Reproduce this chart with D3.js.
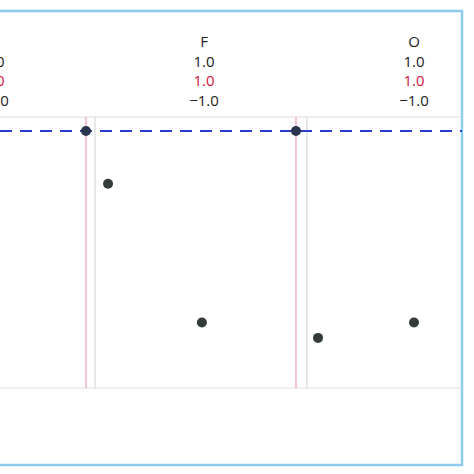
<!DOCTYPE html>
<html>
<head>
<meta charset="utf-8">
<script src="https://cdn.jsdelivr.net/npm/d3@7"></script>
<style>
  body { margin: 0; background: #fff; }
  svg { display: block; font-family: "Open Sans", sans-serif; }
</style>
</head>
<body>
<div id="chart"></div>
<script>
// column labels (first column is cut off at the left edge, as in the original)
const columns = ["", "F", "O"];
const row1 = ["1.0", "1.0", "1.0"];
const row2 = ["1.0", "1.0", "1.0"];
const row3 = ["\u22121.0", "\u22121.0", "\u22121.0"];
// points: x in column units, y value
const pointX = [0.438, 0.543, 0.99, 1.438, 1.543, 2.0];
const pointY = [1.0, 0.59, -0.49, 1.0, -0.61, -0.49];
const pinkLines = [0.438, 1.438];
const grayLines = [0.481, 1.49];
const refLine = 1.0;

const svgWidth = 474, svgHeight = 474;
const svg = d3.select("#chart").append("svg")
    .attr("width", svgWidth)
    .attr("height", svgHeight);

const xScale = d3.scaleLinear().domain([0, 1]).range([-6, 204]);
const yScale = d3.scaleLinear().domain([-1, 1]).range([388, 131]);
const plotTop = 117, plotBottom = 388;

// frame
svg.append("rect")
    .attr("x", -10).attr("y", 11)
    .attr("width", 472).attr("height", 454)
    .attr("fill", "none")
    .attr("stroke", "#8ccbef")
    .attr("stroke-width", 2.5);

// plot box lines
svg.append("line").attr("x1", 0).attr("x2", 462)
    .attr("y1", plotTop).attr("y2", plotTop).attr("stroke", "#ddd");
svg.append("line").attr("x1", 0).attr("x2", 462)
    .attr("y1", plotBottom).attr("y2", plotBottom).attr("stroke", "#ddd");

svg.selectAll(".gray").data(grayLines).enter().append("line")
    .attr("x1", d => xScale(d)).attr("x2", d => xScale(d))
    .attr("y1", plotTop).attr("y2", plotBottom)
    .attr("stroke", "#d8d8d8").attr("stroke-width", 1.2);
svg.selectAll(".pink").data(pinkLines).enter().append("line")
    .attr("x1", d => xScale(d)).attr("x2", d => xScale(d))
    .attr("y1", plotTop).attr("y2", plotBottom)
    .attr("stroke", "#e8a0bc").attr("stroke-width", 1.2);

// dashed reference
svg.append("line")
    .attr("x1", 0).attr("x2", 462)
    .attr("y1", yScale(refLine)).attr("y2", yScale(refLine))
    .attr("stroke", "#2a3acc").attr("stroke-width", 2)
    .attr("stroke-dasharray", "12,8");

// points
svg.selectAll("circle").data(pointX).enter().append("circle")
    .attr("cx", d => xScale(d))
    .attr("cy", (d, i) => yScale(pointY[i]))
    .attr("r", 5)
    .attr("fill", (d, i) => pointY[i] === refLine ? "#2a3550" : "#333b3b");

// header labels
const rows = [[columns, "#222", 47], [row1, "#222", 67], [row2, "#d0143c", 86], [row3, "#222", 106]];
rows.forEach(([vals, color, y]) => {
  svg.selectAll(null).data(vals).enter().append("text")
      .attr("x", (d, i) => xScale(i))
      .attr("y", y)
      .attr("text-anchor", "middle")
      .attr("fill", color)
      .style("font-size", "15px")
      .text(d => d);
});
</script>
</body>
</html>
